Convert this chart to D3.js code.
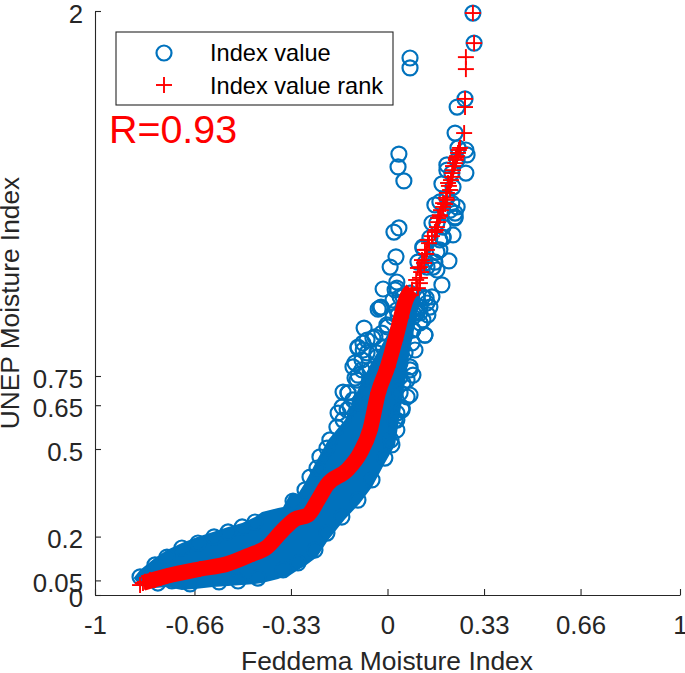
<!DOCTYPE html>
<html>
<head>
<meta charset="utf-8">
<script src="https://cdn.jsdelivr.net/npm/d3@7"></script>
<style>
  html, body { margin: 0; padding: 0; background: #fff; overflow: hidden; }
  text { font-family: "Liberation Sans", Arial, sans-serif; }
</style>
</head>
<body>
<script>
var xTicks = [-1, -0.66, -0.33, 0, 0.33, 0.66, 1];
var yTicks = [0, 0.05, 0.2, 0.5, 0.65, 0.75, 2];
var xTitle = "Feddema Moisture Index";
var yTitle = "UNEP Moisture Index";
var legendNames = ["Index value", "Index value rank"];
var rText = "R=0.93";

// index value: the part of the cloud where the circles overlap to solid blue
var cloudX = [-0.868, -0.846, -0.795, -0.754, -0.703, -0.651, -0.597, -0.545, -0.497, -0.453, -0.429, -0.374, -0.357, -0.333, -0.306, -0.282, -0.241, -0.203, -0.145, -0.094, -0.053, -0.009, 0.026, 0.05, 0.077, 0.111];
var cloudHigh = [0.058, 0.086, 0.127, 0.154, 0.178, 0.199, 0.216, 0.233, 0.247, 0.267, 0.284, 0.298, 0.301, 0.346, 0.346, 0.384, 0.462, 0.531, 0.6, 0.72, 0.8, 0.875, 0.95, 0.99, 1.01, 1.045];
var cloudLow = [0.058, 0.031, 0.024, 0.027, 0.017, 0.021, 0.027, 0.031, 0.034, 0.038, 0.041, 0.055, 0.062, 0.068, 0.086, 0.099, 0.13, 0.188, 0.26, 0.315, 0.37, 0.452, 0.514, 0.668, 0.839, 1.01];

// index value: single circles that can be told apart
var valueX = [0.292, 0.296, 0.077, 0.077, 0.265, 0.238, 0.231, 0.039, 0.036, 0.056,
  0.241, 0.268, 0.272, 0.203, 0.268, 0.22, 0.186, 0.179, 0.238, 0.231, 0.231, 0.169, 0.224, 0.039, 0.022, 0.029, 0.009, 0.21, 0.128, 0.156, 0.032, -0.015, 0.186, 0.026,
  0.179, 0.169, 0.121, 0.19, 0.203, 0.22, 0.203, 0.224, 0.238,
  -0.032, -0.022, 0.019, 0.043, 0.067, 0.121, 0.135, 0.087, 0.138, 0.032, 0.019, 0.101,
  0.032, -0.026, -0.08, 0.128, 0.132, 0.121, 0.094, 0.087, 0.067, 0.05, 0.026, 0.015,
  -0.043, -0.101, -0.111, -0.111, -0.135, -0.155, -0.173, -0.197, -0.231, -0.265,
  -0.07, -0.083, -0.087, -0.104, 0, -0.015, -0.036, 0.101, 0.087, 0.077, 0.067, 0.043, -0.06, -0.07, -0.118, 0.032, 0.032, -0.152, -0.138,
  -0.846, -0.795, -0.754, -0.703, -0.648, -0.593, -0.545, -0.497, -0.453, -0.323,
  -0.675, -0.737, -0.785, -0.576, -0.511, -0.443, -0.357, -0.306, -0.248, -0.207, -0.156, -0.101, -0.053, -0.009,
  -0.282, -0.241, -0.207,
  -0.101, -0.118, -0.101, -0.135, -0.152, -0.169, -0.084, -0.07, -0.05, -0.06, -0.036, -0.087, -0.128, -0.094, -0.002, -0.019, -0.015, -0.036,
  0.128, 0.111, 0.087, 0.077, 0.084, 0.06, 0.077, 0.05, 0.032, 0.053, 0.087, 0.06, 0.043, 0.043, 0.012,
  0.053, 0.077, 0.053, 0.111, 0.036, 0.111, 0.145, 0.152, 0.135, 0.162, 0.121, 0.145, 0.179, 0.169, 0.104, 0.19, 0.152, 0.231, 0.214, 0.162, 0.19];
var valueY = [1.993, 1.89, 1.839, 1.805, 1.699, 1.671, 1.582, 1.51, 1.466, 1.418,
  1.531, 1.524, 1.507, 1.473, 1.445, 1.445, 1.408, 1.346, 1.329, 1.308, 1.291, 1.274, 1.233, 1.257, 1.243, 1.158, 1.123, 1.144, 1.137, 1.123, 1.072, 1.048, 1.062, 1.045,
  1.216, 1.175, 1.188, 1.226, 1.36, 1.342, 1.455, 1.397, 1.49,
  0.979, 0.986, 1.01, 1.021, 1, 1.021, 1, 0.966, 0.959, 0.976, 0.952, 1.021,
  1.051, 0.983, 0.914, 0.89, 1.017, 0.942, 0.839, 0.753, 0.678, 0.64, 0.599, 0.514,
  0.884, 0.846, 0.795, 0.743, 0.692, 0.644, 0.575, 0.531, 0.473, 0.404,
  0.873, 0.839, 0.771, 0.736, 0.918, 0.849, 0.815, 0.966, 0.908, 0.781, 0.736, 0.692, 0.736, 0.692, 0.668, 0.623, 0.565, 0.599, 0.634,
  0.062, 0.103, 0.13, 0.161, 0.178, 0.199, 0.216, 0.233, 0.25, 0.322,
  0.038, 0.048, 0.041, 0.045, 0.048, 0.058, 0.086, 0.11, 0.154, 0.212, 0.267, 0.325, 0.394, 0.469,
  0.36, 0.435, 0.503,
  0.849, 0.781, 0.753, 0.692, 0.695, 0.623, 0.863, 0.829, 0.88, 0.771, 0.736, 0.805, 0.644, 0.658, 0.925, 0.897, 0.849, 0.829,
  0.89, 0.932, 0.952, 0.771, 0.863, 0.829, 0.685, 0.634, 0.599, 0.726, 0.908, 0.89, 0.747, 0.795, 0.531,
  1.021, 1.034, 0.986, 0.986, 0.959, 0.966, 0.986, 1.021, 1.123, 1.14, 1.192, 1.223, 1.182, 1.113, 1.14, 1.223, 1.274, 1.295, 1.318, 1.336, 1.26];

// index value rank: the run of crosses that merges into a band
var bandX = [-0.836, -0.754, -0.641, -0.549, -0.47, -0.412, -0.357, -0.316, -0.272, -0.238, -0.207, -0.138, -0.094, -0.06, -0.032, 0, 0.026, 0.067, 0.084];
var bandY = [0.041, 0.065, 0.089, 0.106, 0.137, 0.164, 0.223, 0.26, 0.274, 0.325, 0.377, 0.428, 0.486, 0.565, 0.692, 0.781, 0.873, 1.021, 1.045];

// index value rank: crosses
var rankX = [-0.846, -0.829, -0.812, -0.795, -0.775, 0, 0.026, 0.047, 0.067, 0.084, 0.098, 0.104, 0.111, 0.111, 0.118, 0.128, 0.135, 0.138, 0.162, 0.169, 0.173, 0.179, 0.19, 0.19, 0.203, 0.207, 0.214, 0.221, 0.224, 0.231, 0.234, 0.241, 0.248, 0.262, 0.265, 0.265, 0.268, 0.268, 0.296, 0.292,
  0.244, 0.238, 0.234, 0.224, 0.221, 0.217, 0.21, 0.203, 0.2, 0.197, 0.183, 0.179, 0.173, 0.166, 0.152, 0.142, 0.132, 0.125, 0.115, 0.111, 0.104];
var rankY = [0.034, 0.045, 0.051, 0.051, 0.058, 0.781, 0.873, 0.95, 1.021, 1.045, 1.079, 1.12, 1.068, 1.123, 1.147, 1.182, 1.182, 1.216, 1.243, 1.26, 1.291, 1.301, 1.329, 1.342, 1.353, 1.411, 1.387, 1.432, 1.455, 1.479, 1.497, 1.514, 1.531, 1.582, 1.671, 1.699, 1.801, 1.842, 1.89, 1.993,
  1.524, 1.503, 1.49, 1.469, 1.445, 1.421, 1.401, 1.377, 1.36, 1.339, 1.318, 1.298, 1.277, 1.25, 1.229, 1.205, 1.168, 1.137, 1.106, 1.086, 1.051];

var blue = "#0072BD", red = "#FF0000", ink = "#262626";

var svg = d3.select("body").append("svg").attr("width", 685).attr("height", 673).style("display", "block");
var x = d3.scaleLinear().domain([-1, 1]).range([95, 680]);
var y = d3.scaleLinear().domain([0, 2]).range([595, 11]);

// axes
var gx = svg.append("g").attr("transform", "translate(0,595)")
  .call(d3.axisBottom(x).tickValues(xTicks).tickFormat(String).tickSizeInner(-6).tickSizeOuter(0));
var gy = svg.append("g").attr("transform", "translate(95,0)")
  .call(d3.axisLeft(y).tickValues(yTicks).tickFormat(String).tickSizeInner(-6).tickSizeOuter(0));
[gx, gy].forEach(function(g) {
  g.selectAll("path, line").attr("stroke", ink).attr("stroke-width", 1.1);
  g.selectAll("text").attr("fill", ink).style("font-size", "25.8px").attr("font-family", null);
});
gx.selectAll("text").attr("y", 39).attr("dy", 0);
gy.selectAll("text").attr("x", -12).attr("dy", 11);

// cloud
var cloud = d3.area()
  .x(function(d) { return x(d); })
  .y0(function(d, i) { return y(cloudLow[i]); })
  .y1(function(d, i) { return y(cloudHigh[i]); });
svg.append("path").attr("d", cloud(cloudX)).attr("fill", blue);

svg.append("g").selectAll("circle")
  .data(valueX)
  .enter().append("circle")
    .attr("cx", function(d) { return x(d); })
    .attr("cy", function(d, i) { return y(valueY[i]); })
    .attr("r", 7.5)
    .attr("fill", "none")
    .attr("stroke", blue)
    .attr("stroke-width", 2.2);

// rank
var band = d3.line()
  .x(function(d) { return x(d); })
  .y(function(d, i) { return y(bandY[i]); })
  .curve(d3.curveMonotoneX);
svg.append("path").attr("d", band(bandX))
  .attr("fill", "none").attr("stroke", red).attr("stroke-width", 15.5);

function plus(g, cx, cy) {
  g.append("line").attr("x1", cx - 8).attr("x2", cx + 8).attr("y1", cy).attr("y2", cy);
  g.append("line").attr("x1", cx).attr("x2", cx).attr("y1", cy - 8).attr("y2", cy + 8);
}
var ranks = svg.append("g").attr("stroke", red).attr("stroke-width", 1.9);
rankX.forEach(function(d, i) { plus(ranks, x(d), y(rankY[i])); });
bandX.forEach(function(d, i) { plus(ranks, x(d), y(bandY[i])); });

// legend
var legend = svg.append("g");
legend.append("rect").attr("x", 116).attr("y", 32).attr("width", 277).attr("height", 73)
  .attr("fill", "#fff").attr("stroke", ink).attr("stroke-width", 1.1);
legend.append("circle").attr("cx", 164).attr("cy", 53).attr("r", 7.5)
  .attr("fill", "none").attr("stroke", blue).attr("stroke-width", 2.2);
var legendPlus = legend.append("g").attr("stroke", red).attr("stroke-width", 1.9);
plus(legendPlus, 164, 85);
legend.selectAll("text").data(legendNames).enter().append("text")
  .attr("x", 210)
  .attr("y", function(d, i) { return i == 0 ? 61 : 94; })
  .attr("fill", "#000")
  .style("font-size", "23.6px")
  .text(function(d) { return d; });

svg.append("text").attr("x", 109).attr("y", 143).attr("fill", red)
  .style("font-size", "39.4px").text(rText);

// titles
svg.append("text").attr("x", 387).attr("y", 670).attr("text-anchor", "middle")
  .attr("fill", ink).style("font-size", "26.4px").text(xTitle);
svg.append("text").attr("transform", "translate(19,303) rotate(-90)").attr("text-anchor", "middle")
  .attr("fill", ink).style("font-size", "26.3px").text(yTitle);
</script>
</body>
</html>
